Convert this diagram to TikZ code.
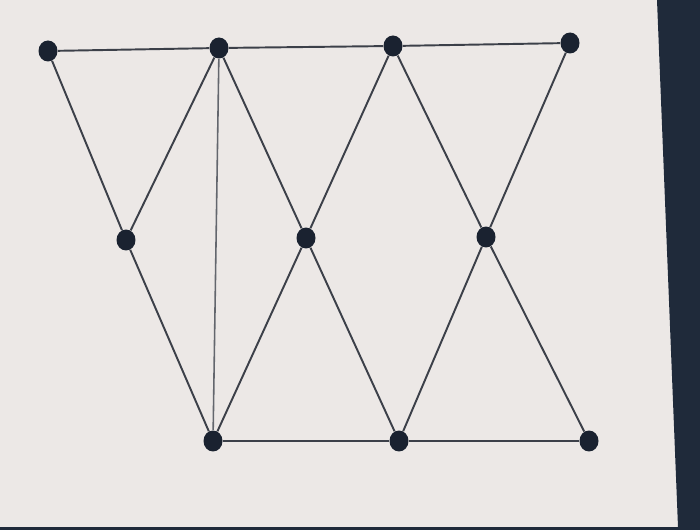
\documentclass[tikz,border=0pt]{standalone}
\definecolor{screenbg}{HTML}{ECE8E6}
\definecolor{bezel}{HTML}{1F2A3A}
\definecolor{dotc}{HTML}{1A2230}
\definecolor{edgec}{HTML}{3C4049}
\tikzset{
  vtx/.style={ellipse, fill=dotc, inner sep=0pt, minimum width=0.38cm, minimum height=0.42cm},
  edg/.style={draw=edgec, line width=1.1pt},
  vedg/.style={draw=edgec!80, line width=0.9pt}
}
\usetikzlibrary{shapes.geometric}
\begin{document}
\begin{tikzpicture}[x=0.02cm, y=-0.02cm]
\useasboundingbox (0,0) rectangle (700,530);
\fill[screenbg] (0,0) rectangle (700,530);
\fill[bezel] (657,0) -- (700,0) -- (700,530) -- (0,530) -- (0,527) -- (678,527) -- cycle;
% vertices
\node[vtx] (A) at (48,51) {};
\node[vtx] (B) at (219,48) {};
\node[vtx] (C) at (393,46) {};
\node[vtx] (D) at (570,43) {};
\node[vtx] (E) at (126,240) {};
\node[vtx] (F) at (306,238) {};
\node[vtx] (G) at (486,237) {};
\node[vtx] (H) at (213,441) {};
\node[vtx] (I) at (399,441) {};
\node[vtx] (J) at (589,441) {};
% edges
\path[edg] (A) -- (B) (B) -- (C) (C) -- (D);
\path[edg] (H) -- (I) (I) -- (J);
\path[edg] (A) -- (E) (E) -- (H) (B) -- (E);
\path[vedg] (B) -- (H);
\path[edg] (B) -- (F) (F) -- (I) (C) -- (F) (F) -- (H);
\path[edg] (C) -- (G) (G) -- (J) (D) -- (G) (G) -- (I);
\end{tikzpicture}
\end{document}
